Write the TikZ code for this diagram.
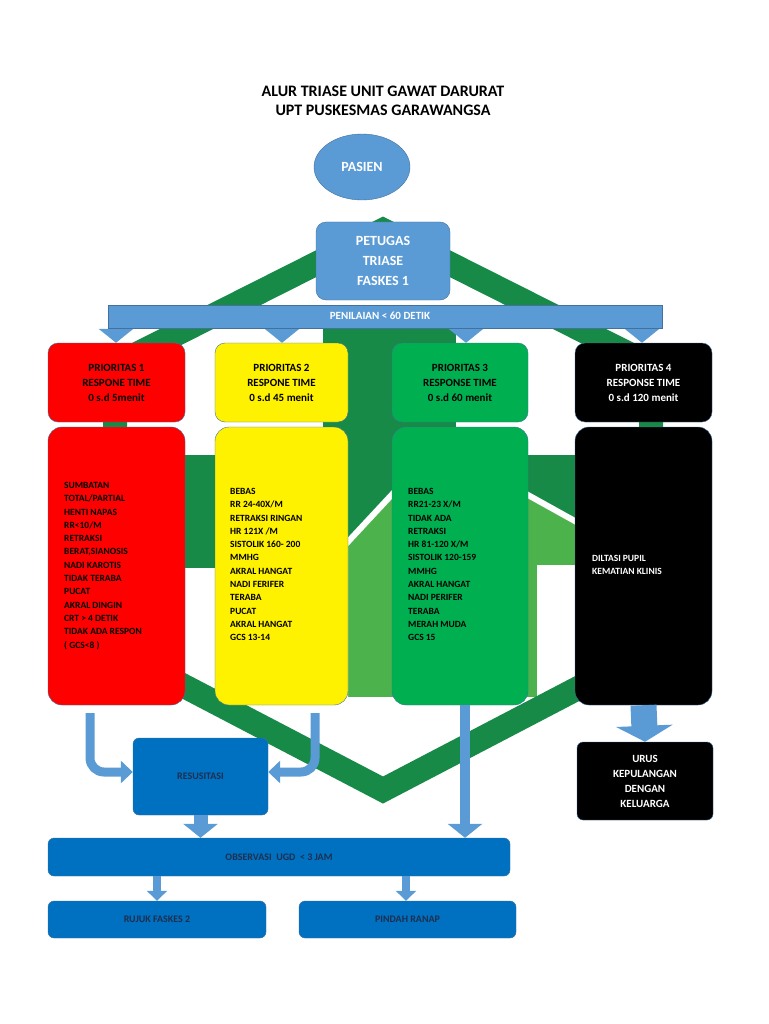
\documentclass[tikz,border=0pt]{standalone}
\usepackage{fontspec}
\setmainfont{Carlito}
\usetikzlibrary{arrows.meta, shapes.geometric}
\definecolor{lblue}{HTML}{5B9BD5}
\definecolor{eblue}{HTML}{41719C}
\definecolor{dblue}{HTML}{0070C0}
\definecolor{navy}{HTML}{1F2F4F}
\definecolor{dgreen}{HTML}{178A48}
\definecolor{lgreen}{HTML}{4CB24C}
\definecolor{pgreen}{HTML}{00B050}
\begin{document}
\begin{tikzpicture}[x=1pt,y=-1pt,
  box/.style={draw=eblue, rounded corners=10pt, align=center, font=\bfseries\fontsize{11}{15}\selectfont, inner sep=0pt},
  detail/.style={rounded corners=14pt, draw=eblue, inner sep=0pt},
  dtext/.style={anchor=north west, align=left, font=\bfseries\fontsize{9.5}{13.3}\selectfont, inner sep=0pt},
  blk/.style={draw=eblue, fill=dblue, rounded corners=6pt, align=center, text=navy, font=\bfseries\fontsize{10}{14}\selectfont, inner sep=0pt},
  arr/.style={draw=lblue, line width=14pt, -{Triangle[width=34pt,length=14pt]}},
  barr/.style={draw=lblue, line width=9pt, rounded corners=14pt, -{Triangle[width=22pt,length=12pt]}}]
\useasboundingbox (0,0) rectangle (768,1024);

% background logo
\fill[dgreen] (130,455) rectangle (640,568);
\fill[dgreen] (323,328) rectangle (456,510);
\filldraw[fill=lgreen, draw=white, line width=6pt] (345,700) -- (345,545) -- (438,445) -- (600,535) -- (600,568) -- (540,568) -- (540,700) -- cycle;
\draw[dgreen, line width=24pt, line join=miter] (383,230) -- (115,365) -- (115,650) -- (383,790) -- (651,650) -- (651,365) -- cycle;

% title
\node[font=\bfseries\fontsize{16}{19}\selectfont, align=center] (title) at (383,101) {ALUR TRIASE UNIT GAWAT DARURAT\\UPT PUSKESMAS GARAWANGSA};

\node[draw=eblue, fill=lblue, ellipse, minimum width=96pt, minimum height=66pt, text=white, font=\bfseries\fontsize{14}{16}\selectfont] (pasien) at (362,167) {PASIEN};
\node[box, fill=lblue, text=white, minimum width=134pt, minimum height=78pt, font=\bfseries\fontsize{14}{20}\selectfont] (petugas) at (383,261) {PETUGAS\\TRIASE\\FASKES 1};

% assessment bar with arrows
\coordinate (a1) at (116,310); \coordinate (a2) at (282,310);
\coordinate (a3) at (466,310); \coordinate (a4) at (642,310);
\node[box, fill=red, minimum width=137pt, minimum height=79pt] (p1) at (116.5,382.5) {PRIORITAS 1\\RESPONE TIME\\0 s.d 5menit};
\node[box, fill=yellow, minimum width=133pt, minimum height=79pt] (p2) at (281.5,382.5) {PRIORITAS 2\\RESPONE TIME\\0 s.d 45 menit};
\node[box, fill=pgreen, minimum width=136pt, minimum height=79pt] (p3) at (460,382.5) {PRIORITAS 3\\RESPONSE TIME\\0 s.d 60 menit};
\node[box, fill=black, text=white, minimum width=137pt, minimum height=79pt] (p4) at (643.5,382.5) {PRIORITAS 4\\RESPONSE TIME\\0 s.d 120 menit};
\draw[arr] (a1) -- (p1.north -| a1);
\draw[arr] (a2) -- (p2.north -| a2);
\draw[arr] (a3) -- (p3.north -| a3);
\draw[arr] (a4) -- (p4.north -| a4);
\node[draw=eblue, fill=lblue, minimum width=554pt, minimum height=23pt, inner sep=0pt] (bar) at (385,316.5) {};
\node[fill=lblue, text=white, font=\bfseries\fontsize{11}{13}\selectfont, inner sep=2pt] (pen) at (380,316) {PENILAIAN < 60 DETIK};

% detail boxes
\node[detail, fill=red, minimum width=137pt, minimum height=278pt] (d1) at (116.5,566) {};
\node[detail, fill=yellow, minimum width=133pt, minimum height=278pt] (d2) at (281.5,566) {};
\node[detail, fill=pgreen, minimum width=136pt, minimum height=278pt] (d3) at (460,566) {};
\node[detail, fill=black, minimum width=137pt, minimum height=278pt] (d4) at (643.5,566) {};
\node[dtext] (t1) at (64,482) {SUMBATAN\\TOTAL/PARTIAL\\HENTI NAPAS\\RR<10/M\\RETRAKSI\\BERAT,SIANOSIS\\NADI KAROTIS\\TIDAK TERABA\\PUCAT\\AKRAL DINGIN\\CRT > 4 DETIK\\TIDAK ADA RESPON\\( GCS<8 )};
\node[dtext] (t2) at (230,488) {BEBAS\\RR 24-40X/M\\RETRAKSI RINGAN\\HR 121X /M\\SISTOLIK 160- 200\\MMHG\\AKRAL HANGAT\\NADI FERIFER\\TERABA\\PUCAT\\AKRAL HANGAT\\GCS 13-14};
\node[dtext] (t3) at (408,488) {BEBAS\\RR21-23 X/M\\TIDAK ADA\\RETRAKSI\\HR 81-120 X/M\\SISTOLIK 120-159\\MMHG\\AKRAL HANGAT\\NADI PERIFER\\TERABA\\MERAH MUDA\\GCS 15};
\node[dtext, text=white] (t4) at (592,555) {DILTASI PUPIL\\KEMATIAN KLINIS};

% lower blocks
\node[blk, minimum width=135pt, minimum height=77pt] (res) at (200.5,776.5) {RESUSITASI};
\node[blk, fill=black, text=white, minimum width=136pt, minimum height=78pt, font=\bfseries\fontsize{11}{15}\selectfont] (urus) at (645,781) {URUS\\KEPULANGAN\\DENGAN\\KELUARGA};
\node[blk, minimum width=462pt, minimum height=38pt] (obs) at (279,857) {OBSERVASI\ \ UGD\ \ < 3 JAM};
\node[blk, minimum width=218pt, minimum height=37pt] (rujuk) at (157,919.5) {RUJUK FASKES 2};
\node[blk, minimum width=217pt, minimum height=37pt] (ranap) at (407.5,919.5) {PINDAH RANAP};

% connectors
\coordinate (b1) at (90,713);
\coordinate (b2) at (315,713);
\draw[barr] (b1) |- (res.west |- 0,772);
\draw[barr] (b2) |- (res.east |- 0,772);
\draw[arr] (res.south) -- (obs.north -| res.south);
\draw[arr, line width=10pt] (d3.south -| 465,0) -- (obs.north -| 465,0);
\draw[arr, line width=26pt, -{Triangle[width=56pt,length=16pt]}] (d4.south) -- (urus.north);
\draw[arr, line width=8pt, -{Triangle[width=20pt,length=10pt]}] (obs.south -| rujuk.north) -- (rujuk.north);
\draw[arr, line width=8pt, -{Triangle[width=20pt,length=10pt]}] (obs.south -| 406,0) -- (ranap.north -| 406,0);
\end{tikzpicture}
\end{document}
